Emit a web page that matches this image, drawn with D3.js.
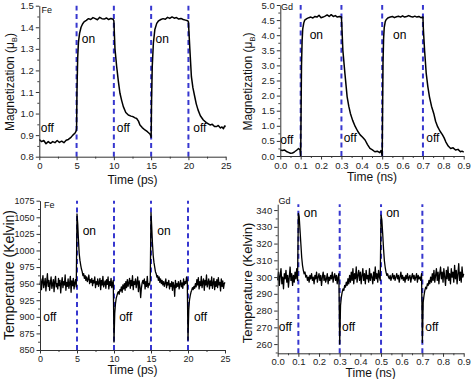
<!DOCTYPE html>
<html><head><meta charset="utf-8">
<script src="https://cdn.jsdelivr.net/npm/d3@7"></script>
<style>
html,body{margin:0;padding:0;background:#fff;}
svg{display:block;font-family:"Liberation Sans",Arial,sans-serif;}
</style></head>
<body>
<svg id="chart" width="474" height="379"></svg>
<script>
// ---------------- DATA ----------------
const switchTimesFe = [5, 10, 15, 20];          // ps
const switchTimesGd = [0.1, 0.3, 0.5, 0.7];     // ns
const stateLabels = ["off", "on", "off", "on", "off"];

// Fe magnetization (time ps, value muB)
const feMagTime = [0,0.3,0.6,0.9,1.2,1.5,1.8,2.1,2.4,2.7,3.0,3.3,3.6,3.9,4.2,4.5,4.8,4.95,5.0,5.05,5.15,5.25,5.4,5.6,5.8,6.0,6.3,6.6,6.9,7.2,7.5,7.8,8.1,8.4,8.7,9.0,9.3,9.6,9.9,10.0,
  10.15,10.38,10.6,10.82,11.05,11.27,11.6,11.94,12.3,12.61,12.85,13.06,13.3,13.5,13.8,14.17,14.5,14.84,14.97,15.0,15.05,15.15,15.3,15.5,15.75,16.0,16.3,16.6,16.9,17.2,17.5,17.8,18.1,18.4,18.7,19.0,19.3,19.6,19.9,20.0,
  20.2,20.4,20.6,20.85,21.05,21.3,21.6,22.0,22.4,22.9,23.2,23.5,23.8,24.0,24.3,24.5,24.7,24.85,25.0];
const feMagValue = [0.88,0.87,0.875,0.86,0.87,0.862,0.87,0.865,0.875,0.866,0.872,0.865,0.876,0.88,0.888,0.9,0.91,0.92,0.93,1.1,1.26,1.33,1.372,1.40,1.415,1.425,1.432,1.44,1.436,1.445,1.44,1.435,1.446,1.44,1.438,1.443,1.436,1.441,1.437,1.43,
  1.3,1.217,1.15,1.094,1.06,1.032,1.005,0.993,0.988,0.985,0.98,0.977,0.965,0.947,0.935,0.924,0.916,0.905,0.895,0.89,1.05,1.22,1.326,1.39,1.418,1.43,1.436,1.44,1.437,1.446,1.441,1.448,1.442,1.445,1.438,1.441,1.436,1.433,1.43,1.425,
  1.295,1.171,1.12,1.078,1.045,1.016,0.99,0.97,0.958,0.947,0.95,0.94,0.94,0.945,0.933,0.938,0.93,0.942,0.94];

// Gd magnetization (time ns, value muB)
const gdMagTime = [0,0.01,0.02,0.03,0.04,0.05,0.06,0.07,0.08,0.09,0.097,0.1,0.102,0.104,0.107,0.11,0.115,0.12,0.13,0.14,0.15,0.16,0.17,0.18,0.19,0.2,0.21,0.22,0.23,0.24,0.25,0.26,0.27,0.28,0.29,0.3,
  0.302,0.307,0.317,0.328,0.336,0.344,0.355,0.368,0.38,0.392,0.404,0.416,0.428,0.44,0.452,0.464,0.476,0.488,0.494,0.498,0.5,
  0.502,0.504,0.507,0.51,0.515,0.52,0.53,0.54,0.55,0.56,0.57,0.58,0.59,0.6,0.61,0.62,0.63,0.64,0.65,0.66,0.67,0.68,0.69,0.7,
  0.702,0.708,0.716,0.724,0.732,0.742,0.753,0.762,0.772,0.784,0.796,0.804,0.812,0.824,0.836,0.848,0.86,0.872,0.884,0.892,0.9];
const gdMagValue = [0.2,0.18,0.2,0.15,0.12,0.09,0.1,0.14,0.19,0.25,0.2,0.02,1.5,3.0,3.8,4.2,4.4,4.5,4.55,4.58,4.6,4.57,4.62,4.6,4.66,4.58,4.6,4.63,4.67,4.62,4.68,4.62,4.65,4.6,4.62,4.6,
  4.3,3.5,2.74,1.96,1.65,1.41,1.18,0.97,0.82,0.7,0.62,0.53,0.38,0.25,0.2,0.14,0.16,0.11,0.18,0.08,0.02,
  1.6,3.1,3.9,4.25,4.45,4.52,4.58,4.6,4.62,4.58,4.61,4.63,4.6,4.64,4.6,4.62,4.65,4.62,4.6,4.63,4.6,4.62,4.58,4.6,
  4.2,3.5,2.74,2.3,1.96,1.65,1.41,1.15,0.97,0.82,0.7,0.6,0.47,0.33,0.25,0.27,0.2,0.22,0.14,0.16,0.13];

// Fe temperature, sampled every 0.1 ps from 0 ps (Kelvin)
const feTempStart = 0, feTempStep = 0.1;
const feTempValue = [
 948,957,941,953,962,944,950,958,939,952, 965,946,955,940,951,960,943,949,956,938,
 953,961,945,950,942,958,947,955,936,951, 959,944,953,948,963,940,952,946,957,943,
 950,961,937,954,947,958,942,951,956,945,
 1055,1040,1015,995,985,978,972,968,962,965, 958,962,955,960,953,957,963,950,956,952,
 958,947,955,951,960,944,953,949,957,946, 952,958,941,955,948,961,945,950,954,943,
 956,949,960,942,953,947,958,944,951,955,
 862,905,920,928,932,936,938,934,941,939, 945,937,948,942,950,940,953,944,956,946,
 951,958,943,955,947,962,941,953,949,957, 944,952,960,938,954,946,929,943,951,955,
 950,957,942,953,946,961,944,950,948,955,
 1057,1035,1010,992,982,975,968,965,960,962, 955,960,952,957,950,955,948,953,946,951,
 957,944,952,948,955,942,950,946,953,940, 952,947,931,955,944,950,946,953,942,949,
 955,945,951,943,957,948,953,950,960,955,
 865,910,925,932,937,940,944,941,946,943, 950,945,956,948,959,942,953,947,961,944,
 952,957,940,955,948,963,945,951,957,942, 954,947,960,943,951,958,941,953,946,956,
 944,959,948,952,939,957,946,954,943,950, 952];

// Gd temperature, sampled every 0.004 ns from 0 ns (Kelvin)
const gdTempStart = 0, gdTempStep = 0.004;
const gdTempValue = [
 298,303,295,301,305,296,300,293,302,299, 304,297,301,294,300,306,298,302,295,301,
 297,303,299,305,298,
 338,336,328,320,312,307,304,302,303,300, 301,298,300,297,301,299,302,298,300,296,
 301,299,303,297,300,302,298,301,295,300, 303,298,301,297,299,302,296,300,298,301,
 299,303,297,300,302,298,301,296,300,302,
 260,283,288,291,293,292,295,294,297,295, 299,296,301,297,303,298,305,296,302,299,
 306,297,301,304,298,303,296,301,305,298, 302,296,304,299,301,297,305,298,302,300,
 296,303,298,306,299,302,297,304,300,298,
 337,334,326,317,310,306,303,301,302,300, 299,301,298,300,302,299,301,298,300,302,
 299,301,297,300,303,299,301,298,300,297, 301,299,302,298,300,301,297,300,302,299,
 301,298,300,302,297,301,299,300,298,302,
 261,285,289,292,294,293,296,295,298,296, 300,297,302,298,304,297,301,305,298,303,
 296,302,306,299,303,297,305,300,295,304, 299,306,298,302,296,305,300,303,297,307,
 299,304,296,302,308,298,303,297,306,300,302];

const feMagTicks = [0.8,0.9,1.0,1.1,1.2,1.3,1.4,1.5];
const gdMagTicks = [0.0,0.5,1.0,1.5,2.0,2.5,3.0,3.5,4.0,4.5,5.0];
const feTempTicks = [850,875,900,925,950,975,1000,1025,1050,1075];
const gdTempTicks = [260,270,280,290,300,310,320,330,340];
const psTicks = [0,5,10,15,20,25];
const nsTicks = [0.0,0.1,0.2,0.3,0.4,0.5,0.6,0.7,0.8,0.9];

// ---------------- DRAWING ----------------
const svg = d3.select("#chart");
const zip = (a, b) => a.map((t, i) => [t, b[i]]);
const sampled = (start, step, vals) => vals.map((v, i) => [start + i * step, v]);

function drawPanel(p) {
  const x = d3.scaleLinear().domain(p.xDomain).range(p.xRange);
  const y = d3.scaleLinear().domain(p.yDomain).range(p.yRange);
  const g = svg.append("g");

  // switching dashed lines
  g.selectAll("line.sw").data(p.switches).join("line")
    .attr("x1", d => x(d)).attr("x2", d => x(d))
    .attr("y1", p.yRange[0]).attr("y2", p.yRange[1])
    .attr("stroke", "#3737cf").attr("stroke-width", 2)
    .attr("stroke-dasharray", "5,3.6");

  // data line
  g.append("path").datum(p.data)
    .attr("d", d3.line().x(d => x(d[0])).y(d => y(d[1])))
    .attr("fill", "none").attr("stroke", "#000")
    .attr("stroke-width", p.lw).attr("stroke-linejoin", "round");

  // minor ticks
  const xMinor = g.append("g").attr("transform", `translate(0,${p.yRange[0]})`)
    .call(d3.axisBottom(x).tickValues(p.xMinor).tickSize(2).tickFormat("").tickSizeOuter(0));
  const yMinor = g.append("g").attr("transform", `translate(${p.xRange[0]},0)`)
    .call(d3.axisLeft(y).tickValues(p.yMinor).tickSize(2).tickFormat("").tickSizeOuter(0));
  [xMinor, yMinor].forEach(a => { a.select(".domain").remove(); a.selectAll("line").attr("stroke", "#444"); });

  // major axes
  const xa = g.append("g").attr("transform", `translate(0,${p.yRange[0]})`)
    .call(d3.axisBottom(x).tickValues(p.xTicks).tickSize(3.5).tickPadding(p.xPad).tickSizeOuter(0).tickFormat(p.xFmt));
  const ya = g.append("g").attr("transform", `translate(${p.xRange[0]},0)`)
    .call(d3.axisLeft(y).tickValues(p.yTicks).tickSize(3.5).tickPadding(2).tickSizeOuter(0).tickFormat(p.yFmt));
  [xa, ya].forEach(a => {
    a.select(".domain").attr("stroke", "#333");
    a.selectAll("line").attr("stroke", "#333");
    a.selectAll("text").attr("fill", "#222").style("font-size", p.tickFs + "px")
      .style("font-family", '"Liberation Sans",Arial,sans-serif');
  });

  // x title
  g.append("text").attr("x", (p.xRange[0] + p.xRange[1]) / 2).attr("y", p.xTitleY)
    .attr("text-anchor", "middle").style("font-size", "12px").attr("fill", "#111")
    .text(p.xTitle);

  // y title
  const yt = g.append("text")
    .attr("transform", `translate(${p.yTitleX},${p.yTitleCY}) rotate(-90)`)
    .attr("text-anchor", "middle").style("font-size", p.yTitleFs + "px").attr("fill", "#111");
  if (p.mag) {
    yt.append("tspan").text("Magnetization (\u03bc");
    yt.append("tspan").attr("dy", 3).style("font-size", (p.yTitleFs * 0.62) + "px").text("B");
    yt.append("tspan").attr("dy", -3).text(")");
  } else {
    yt.text(p.yTitle);
  }

  // element label
  g.append("text").attr("x", p.elemPos[0]).attr("y", p.elemPos[1])
    .style("font-size", "9px").attr("fill", "#111").text(p.elem);

  // on/off labels
  g.selectAll("text.st").data(p.stateAt).join("text")
    .attr("x", d => x(d[0])).attr("y", d => y(d[1]))
    .style("font-size", "12px").attr("fill", "#000")
    .text((d, i) => stateLabels[i]);
}

const fmt1 = d3.format(".1f");
const fmt0 = d3.format("d");

drawPanel({
  data: zip(feMagTime, feMagValue), lw: 1.5,
  xDomain: [0, 25], xRange: [39.3, 225.7], yDomain: [0.8, 1.5], yRange: [156.7, 5.7],
  xTicks: psTicks, xMinor: [2.5, 7.5, 12.5, 17.5, 22.5], xFmt: fmt0, xPad: 2.5,
  yTicks: feMagTicks, yMinor: [0.85,0.95,1.05,1.15,1.25,1.35,1.45], yFmt: fmt1,
  tickFs: 9.5, switches: switchTimesFe,
  xTitle: "Time (ps)", xTitleY: 184, mag: true, yTitleX: 13.5, yTitleCY: 82, yTitleFs: 12,
  elem: "Fe", elemPos: [41.5, 12.5],
  stateAt: [[0.2, 0.914], [5.7, 1.325], [10.4, 0.914], [15.6, 1.325], [20.65, 0.914]]
});

drawPanel({
  data: zip(gdMagTime, gdMagValue), lw: 1.5,
  xDomain: [0, 0.9], xRange: [280.3, 463.7], yDomain: [0, 5], yRange: [156, 5],
  xTicks: nsTicks, xMinor: [0.05,0.15,0.25,0.35,0.45,0.55,0.65,0.75,0.85], xFmt: fmt1, xPad: 2.5,
  yTicks: gdMagTicks, yMinor: [0.25,0.75,1.25,1.75,2.25,2.75,3.25,3.75,4.25,4.75], yFmt: fmt1,
  tickFs: 9.5, switches: switchTimesGd,
  xTitle: "Time (ns)", xTitleY: 181, mag: true, yTitleX: 251.5, yTitleCY: 81.5, yTitleFs: 12,
  elem: "Gd", elemPos: [281, 10],
  stateAt: [[0.0, 0.4], [0.144, 3.87], [0.311, 0.45], [0.553, 3.87], [0.716, 0.45]]
});

drawPanel({
  data: sampled(feTempStart, feTempStep, feTempValue), lw: 1.3,
  xDomain: [0, 25], xRange: [40, 225], yDomain: [850, 1075], yRange: [350, 200.7],
  xTicks: psTicks, xMinor: [2.5, 7.5, 12.5, 17.5, 22.5], xFmt: fmt0, xPad: 2.5,
  yTicks: feTempTicks, yMinor: [862.5,887.5,912.5,937.5,962.5,987.5,1012.5,1037.5,1062.5], yFmt: fmt0,
  tickFs: 9, switches: switchTimesFe,
  xTitle: "Time (ps)", xTitleY: 374, mag: false, yTitle: "Temperature (Kelvin)",
  yTitleX: 14, yTitleCY: 275, yTitleFs: 14,
  elem: "Fe", elemPos: [44, 208],
  stateAt: [[0.45, 894], [5.77, 1024], [10.7, 894], [15.85, 1024], [20.8, 894]]
});

drawPanel({
  data: sampled(gdTempStart, gdTempStep, gdTempValue), lw: 1.3,
  xDomain: [0, 0.9], xRange: [277.7, 463.7], yDomain: [254.5, 343.5], yRange: [353.3, 204.2],
  xTicks: nsTicks, xMinor: [0.05,0.15,0.25,0.35,0.45,0.55,0.65,0.75,0.85], xFmt: fmt1, xPad: 1.5,
  yTicks: gdTempTicks, yMinor: [255,265,275,285,295,305,315,325,335], yFmt: fmt0,
  tickFs: 9.5, switches: switchTimesGd,
  xTitle: "Time (ns)", xTitleY: 377, mag: false, yTitle: "Temperature (Kelvin)",
  yTitleX: 252, yTitleCY: 283, yTitleFs: 13,
  elem: "Gd", elemPos: [278.5, 203.5],
  stateAt: [[0.005, 267.8], [0.126, 335.6], [0.311, 267.8], [0.525, 335.6], [0.714, 267.8]]
});
</script>
</body></html>
